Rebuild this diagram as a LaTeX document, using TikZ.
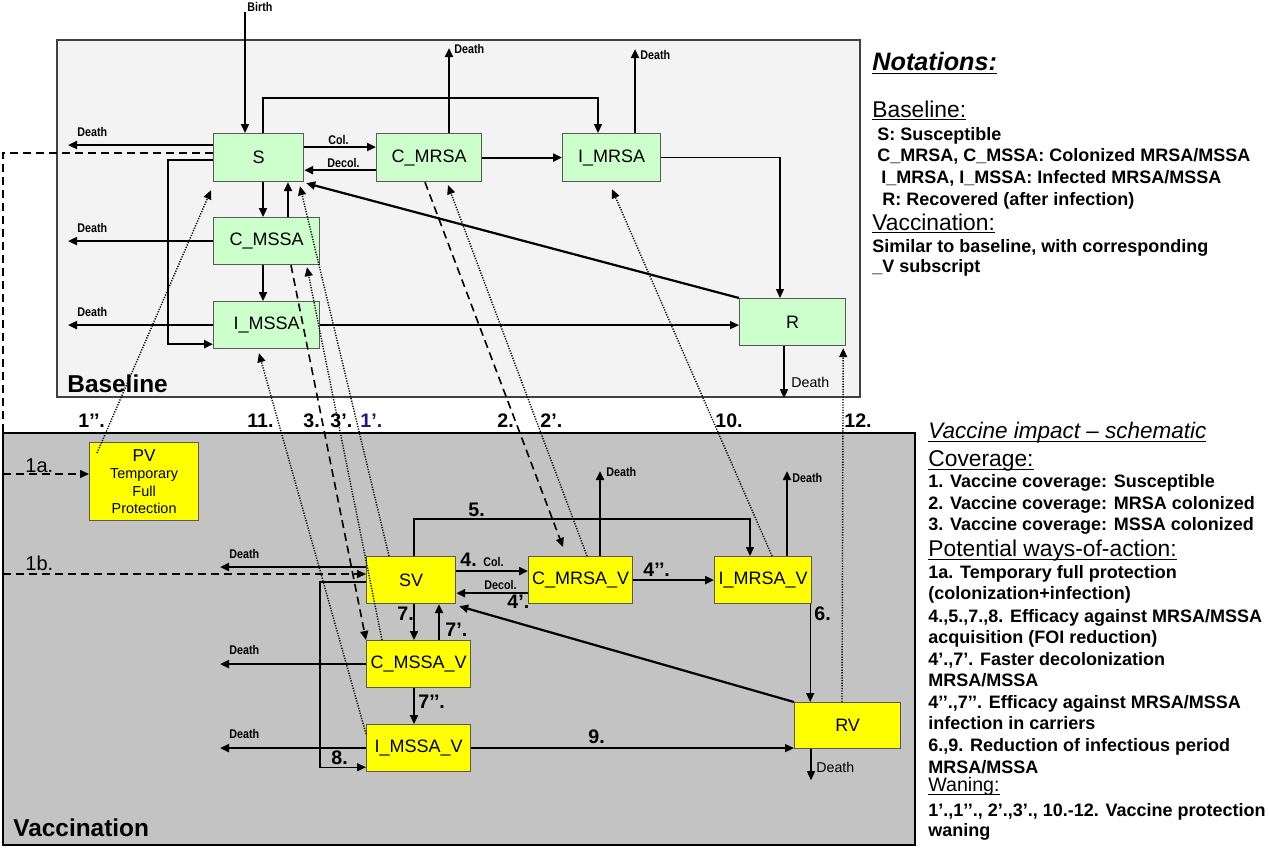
\documentclass[tikz,border=0pt]{standalone}
\usepackage{fontspec}
\setmainfont{Liberation Sans}
\newfontfamily\narrowfont[FakeStretch=0.85]{Liberation Sans}
\usetikzlibrary{arrows.meta,calc}

\definecolor{basegreen}{HTML}{CCFFCC}
\definecolor{vacyellow}{HTML}{FFFF00}
\definecolor{basepanel}{HTML}{F3F3F3}
\definecolor{vacpanel}{HTML}{C3C3C3}
\definecolor{wanenavy}{HTML}{1C1C7A}

\newcommand{\undl}[1]{\underline{\smash{#1}}}

\tikzset{
  box/.style={draw=black!65, line width=0.6pt, anchor=north west, inner sep=0pt,
    minimum height=23.5pt, font=\fontsize{9}{10}\selectfont},
  basebox/.style={box, fill=basegreen},
  vacbox/.style={box, fill=vacyellow},
  flow/.style={line width=1.1pt, -{Triangle[length=4.5pt,width=4pt]}},
  thinflow/.style={flow, line width=0.65pt},
  covline/.style={line width=0.8pt, dash pattern=on 4pt off 2.5pt},
  covlink/.style={covline, -{Triangle[length=4.5pt,width=4pt]}},
  wanelink/.style={line width=0.7pt, dash pattern=on 0.6pt off 0.7pt,
    -{Triangle[length=4.5pt,width=4pt]}},
  deathlab/.style={anchor=base west, inner sep=0pt, font=\narrowfont\bfseries\fontsize{6.3}{7}\selectfont},
  bigdeath/.style={anchor=base west, inner sep=0pt, font=\fontsize{7.1}{8}\selectfont},
  numlab/.style={anchor=base west, inner sep=0pt, font=\bfseries\fontsize{9.8}{11}\selectfont},
  entrylab/.style={anchor=base west, inner sep=0pt, font=\fontsize{10}{11}\selectfont},
  panellab/.style={anchor=base west, inner sep=0pt, font=\bfseries\fontsize{12.2}{13}\selectfont},
  notehead/.style={anchor=base west, inner sep=0pt, font=\fontsize{11.4}{12}\selectfont},
  noteline/.style={anchor=base west, inner sep=0pt, font=\bfseries\fontsize{9}{10}\selectfont}
}

\begin{document}
\begin{tikzpicture}[x=0.5pt,y=-0.5pt]
\useasboundingbox (0,0) rectangle (1269,848);

% panels
\draw[fill=basepanel, draw=black!75, line width=1pt] (57,40) rectangle (860,397);
\draw[fill=vacpanel, draw=black, line width=1pt] (3,433) rectangle (915,845);

% baseline compartments
\node[basebox, minimum width=45pt, minimum height=24pt] (S) at (213,133) {S};
\node[basebox, minimum width=52.5pt, minimum height=24pt] (CMRSA) at (376,133) {C\_MRSA};
\node[basebox, minimum width=49pt, minimum height=24pt] (IMRSA) at (562,133) {I\_MRSA};
\node[basebox, minimum width=53pt] (CMSSA) at (213,217) {C\_MSSA};
\node[basebox, minimum width=53pt] (IMSSA) at (213,301) {I\_MSSA};
\node[basebox, minimum width=53pt] (R) at (739,298) {R};

% vaccination compartments
\node[vacbox, minimum width=54.5pt, minimum height=39pt, align=center,
  font=\fontsize{7.2}{8.6}\selectfont] (PV) at (89,442)
  {{\fontsize{8.6}{9}\selectfont PV}\\Temporary\\Full\\Protection};
\node[vacbox, minimum width=44.5pt] (SV) at (366,556) {SV};
\node[vacbox, minimum width=52pt] (CMRSAV) at (528,556) {C\_MRSA\_V};
\node[vacbox, minimum width=48.5pt] (IMRSAV) at (714,556) {I\_MRSA\_V};
\node[vacbox, minimum width=52pt] (CMSSAV) at (366,640) {C\_MSSA\_V};
\node[vacbox, minimum width=52pt] (IMSSAV) at (366,724) {I\_MSSA\_V};
\node[vacbox, minimum width=53pt, minimum height=23pt] (RV) at (794,702) {RV};

% free ends
\coordinate (birth) at (245,12);
\coordinate (dS) at (68,145);
\coordinate (dSV) at (220,567);
\coordinate (va) at (3,474);
\coordinate (vb) at (3,574);

% baseline flows
\draw[flow] (birth) -- (birth |- S.north);
\draw[flow] (S.west |- dS) -- (dS);
\draw[flow] ($(S.north east)+(0,14)$) coordinate (col) -- (col -| CMRSA.west);
\draw[flow] ($(CMRSA.south west)+(0,-12)$) coordinate (decol) -- (decol -| S.east);
\draw[thinflow] ($(S.north west)+(50,0)$) -- ++(0,-35) -| ($(IMRSA.north west)+(36,0)$);
\draw[flow] ($(CMRSA.north west)+(73,0)$) -- ++(0,-85) coordinate (dCMRSA);
\draw[flow] (CMRSA.east) -- (CMRSA.east -| IMRSA.west);
\draw[flow] ($(IMRSA.north west)+(73,0)$) -- ++(0,-84) coordinate (dIMRSA);
\draw[thinflow] (IMRSA.east) -| ($(R.north west)+(41,0)$);
\draw[flow] (R.north west) -- ($(S.south east)+(2,1)$);
\draw[thinflow] ($(R.south west)+(45,0)$) -- ++(0,52) coordinate (dR);
\draw[flow] ($(S.south west)+(50,0)$) coordinate (sc) -- (sc |- CMSSA.north);
\draw[flow] ($(CMSSA.north west)+(75,0)$) coordinate (cs) -- (cs |- S.south);
\draw[flow] ($(S.south west)+(0,-22)$) -- ++(-45,0) |- ($(IMSSA.south west)+(0,-5)$);
\draw[flow] (CMSSA.west) -- (CMSSA.west -| dS);
\draw[flow] ($(CMSSA.south west)+(50,0)$) coordinate (ci) -- (ci |- IMSSA.north);
\draw[flow] (IMSSA.west) -- (IMSSA.west -| dS);
\draw[thinflow] (IMSSA.east) -- (IMSSA.east -| R.west);

% vaccination flows
\draw[flow] ($(SV.north west)+(0,11)$) coordinate (svd) -- (svd -| dSV);
\draw[thinflow] ($(SV.north west)+(0,26)$) -- ++(-46,0) |- ($(IMSSAV.south west)+(0,-5)$);
\draw[flow] ($(SV.north east)+(0,15)$) coordinate (vcol) -- (vcol -| CMRSAV.west);
\draw[flow] ($(CMRSAV.south west)+(0,-11)$) coordinate (vdecol) -- (vdecol -| SV.east);
\draw[thinflow] ($(SV.north west)+(48,0)$) -- ++(0,-37) -| ($(IMRSAV.north west)+(36,0)$);
\draw[flow] ($(CMRSAV.north west)+(72,0)$) -- ++(0,-85) coordinate (dCMRSAV);
\draw[flow] (CMRSAV.east) -- (CMRSAV.east -| IMRSAV.west);
\draw[flow] ($(IMRSAV.north west)+(73,0)$) -- ++(0,-85) coordinate (dIMRSAV);
\draw[thinflow] ($(IMRSAV.south east)+(-2,0)$) coordinate (ir) -- (ir |- RV.north);
\draw[flow] (RV.north west) -- ($(SV.south east)+(3,2)$);
\draw[thinflow] ($(RV.south west)+(17,0)$) -- ++(0,31) coordinate (dRV);
\draw[flow] ($(SV.south west)+(48,0)$) coordinate (vsc) -- (vsc |- CMSSAV.north);
\draw[flow] ($(CMSSAV.north west)+(73,0)$) coordinate (vcs) -- (vcs |- SV.south);
\draw[flow] ($(CMSSAV.south west)+(48,0)$) coordinate (vci) -- (vci |- IMSSAV.north);
\draw[flow] (CMSSAV.west) -- (CMSSAV.west -| dSV);
\draw[flow] (IMSSAV.west) -- (IMSSAV.west -| dSV);
\draw[thinflow] (IMSSAV.east) -- (IMSSAV.east -| RV.west);

% coverage and waning links
\draw[covline] ($(S.north west)+(0,20)$) -| (vb);
\draw[covlink] (va) -- (va -| PV.west);
\draw[covlink] (vb) -- (vb -| SV.west);
\draw[covlink] ($(CMSSA.south west)+(78,0)$) -- (CMSSAV.north west);
\draw[covlink] ($(CMRSA.south west)+(49,0)$) -- ($(CMRSAV.north west)+(35,-9)$);
\draw[wanelink] ($(PV.north west)+(8,11)$) -- ($(S.south west)+(-2,8)$);
\draw[wanelink] ($(IMSSAV.north west)+(0,10)$) -- ($(IMSSA.south west)+(46,4)$);
\draw[wanelink] ($(CMSSAV.north west)+(16,0)$) -- ($(CMSSA.south west)+(94,2)$);
\draw[wanelink] ($(SV.north west)+(23,0)$) -- ($(S.south west)+(87,4)$);
\draw[wanelink] ($(CMRSAV.north west)+(59,0)$) -- ($(CMRSA.south west)+(72,3)$);
\draw[wanelink] ($(IMRSAV.north west)+(58,0)$) -- ($(IMRSA.south west)+(50,7)$);
\draw[wanelink] ($(RV.north west)+(48,0)$) -- ($(R.south east)+(-3,2)$);

% small labels
\node[deathlab] (birthlab) at (247,11) {Birth};
\node[deathlab] (lS) at (77,136) {Death};
\node[deathlab] (lCMSSA) at (77,232) {Death};
\node[deathlab] (lIMSSA) at (77,316) {Death};
\node[deathlab] (lCMRSA) at (454,53) {Death};
\node[deathlab] (lIMRSA) at (640,59) {Death};
\node[bigdeath] (lR) at (791,387) {Death};
\node[deathlab] (colS) at (328,144) {Col.};
\node[deathlab] (decolS) at (327,167) {Decol.};
\node[deathlab] (lSV) at (229,558) {Death};
\node[deathlab] (lCMSSAV) at (229,654) {Death};
\node[deathlab] (lIMSSAV) at (229,738) {Death};
\node[deathlab] (lCMRSAV) at (606,476) {Death};
\node[deathlab] (lIMRSAV) at (792,482) {Death};
\node[bigdeath] (lRV) at (816,772) {Death};
\node[deathlab] (colSV) at (483,566) {Col.};
\node[deathlab] (decolSV) at (484,589) {Decol.};

% numbered labels
\node[numlab] (n1pp) at (78,427) {1’’.};
\node[numlab] (n11) at (247,427) {11.};
\node[numlab] (n3) at (303,427) {3.};
\node[numlab] (n3p) at (330,427) {3’.};
\node[numlab, text=wanenavy] (n1p) at (360,427) {1’.};
\node[numlab] (n2) at (497,427) {2.};
\node[numlab] (n2p) at (540,427) {2’.};
\node[numlab] (n10) at (715,427) {10.};
\node[numlab] (n12) at (844,427) {12.};
\node[entrylab] (n1a) at (25,472) {1a.};
\node[entrylab] (n1b) at (25,570) {1b.};
\node[numlab] (n4) at (460,566) {4.};
\node[numlab] (n4p) at (507,608) {4’.};
\node[numlab] (n4pp) at (643,576) {4’’.};
\node[numlab] (n5) at (468,516) {5.};
\node[numlab] (n6) at (814,620) {6.};
\node[numlab] (n7) at (397,620) {7.};
\node[numlab] (n7p) at (445,636) {7’.};
\node[numlab] (n7pp) at (418,708) {7’’.};
\node[numlab] (n8) at (331,764) {8.};
\node[numlab] (n9) at (588,743) {9.};

\node[panellab] (baselab) at (67,392) {Baseline};
\node[panellab] (vaclab) at (13,836) {Vaccination};

% notations
\node[notehead, font=\bfseries\itshape\fontsize{12.6}{13}\selectfont] (nt) at (872,70.7) {\undl{Notations:}};
\node[notehead] (nt1) at (872,117) {\undl{Baseline:}};
\node[noteline] (nt2) at (877,140) {S: Susceptible};
\node[noteline] (nt3) at (877,161.7) {C\_MRSA, C\_MSSA: Colonized MRSA/MSSA};
\node[noteline] (nt4) at (881,183.3) {I\_MRSA, I\_MSSA: Infected MRSA/MSSA};
\node[noteline] (nt5) at (882,205.7) {R: Recovered (after infection)};
\node[notehead] (nt6) at (872,230) {\undl{Vaccination:}};
\node[noteline] (nt7) at (872,252.3) {Similar to baseline, with corresponding};
\node[noteline] (nt8) at (872,272.3) {\_V subscript};

% vaccine impact
\node[notehead, font=\itshape\fontsize{11.25}{12}\selectfont] (vi) at (928,438.3) {\undl{Vaccine impact – schematic}};
\node[notehead] (vi1) at (928,466.7) {\undl{Coverage:}};
\node[noteline] (vi2) at (928,487.7) {1. Vaccine coverage: Susceptible};
\node[noteline] (vi3) at (928,509) {2. Vaccine coverage: MRSA colonized};
\node[noteline] (vi4) at (928,530) {3. Vaccine coverage: MSSA colonized};
\node[notehead] (vi5) at (928,556.7) {\undl{Potential ways-of-action:}};
\node[noteline] (vi6) at (928,578.3) {1a. Temporary full protection};
\node[noteline] (vi7) at (928,599) {(colonization+infection)};
\node[noteline] (vi8) at (928,622.3) {4.,5.,7.,8. Efficacy against MRSA/MSSA};
\node[noteline] (vi9) at (928,643.3) {acquisition (FOI reduction)};
\node[noteline] (vi10) at (928,665) {4’.,7’. Faster decolonization};
\node[noteline] (vi11) at (928,686.7) {MRSA/MSSA};
\node[noteline] (vi12) at (928,708.3) {4’’.,7’’. Efficacy against MRSA/MSSA};
\node[noteline] (vi13) at (928,729.3) {infection in carriers};
\node[noteline] (vi14) at (928,751.7) {6.,9. Reduction of infectious period};
\node[noteline] (vi15) at (928,773.3) {MRSA/MSSA};
\node[notehead, font=\fontsize{9.8}{11}\selectfont] (vi16) at (928,791.7) {\undl{Waning:}};
\node[noteline] (vi17) at (928,816.7) {1’.,1’’., 2’.,3’., 10.-12. Vaccine protection};
\node[noteline] (vi18) at (928,836.7) {waning};
\end{tikzpicture}
\end{document}
